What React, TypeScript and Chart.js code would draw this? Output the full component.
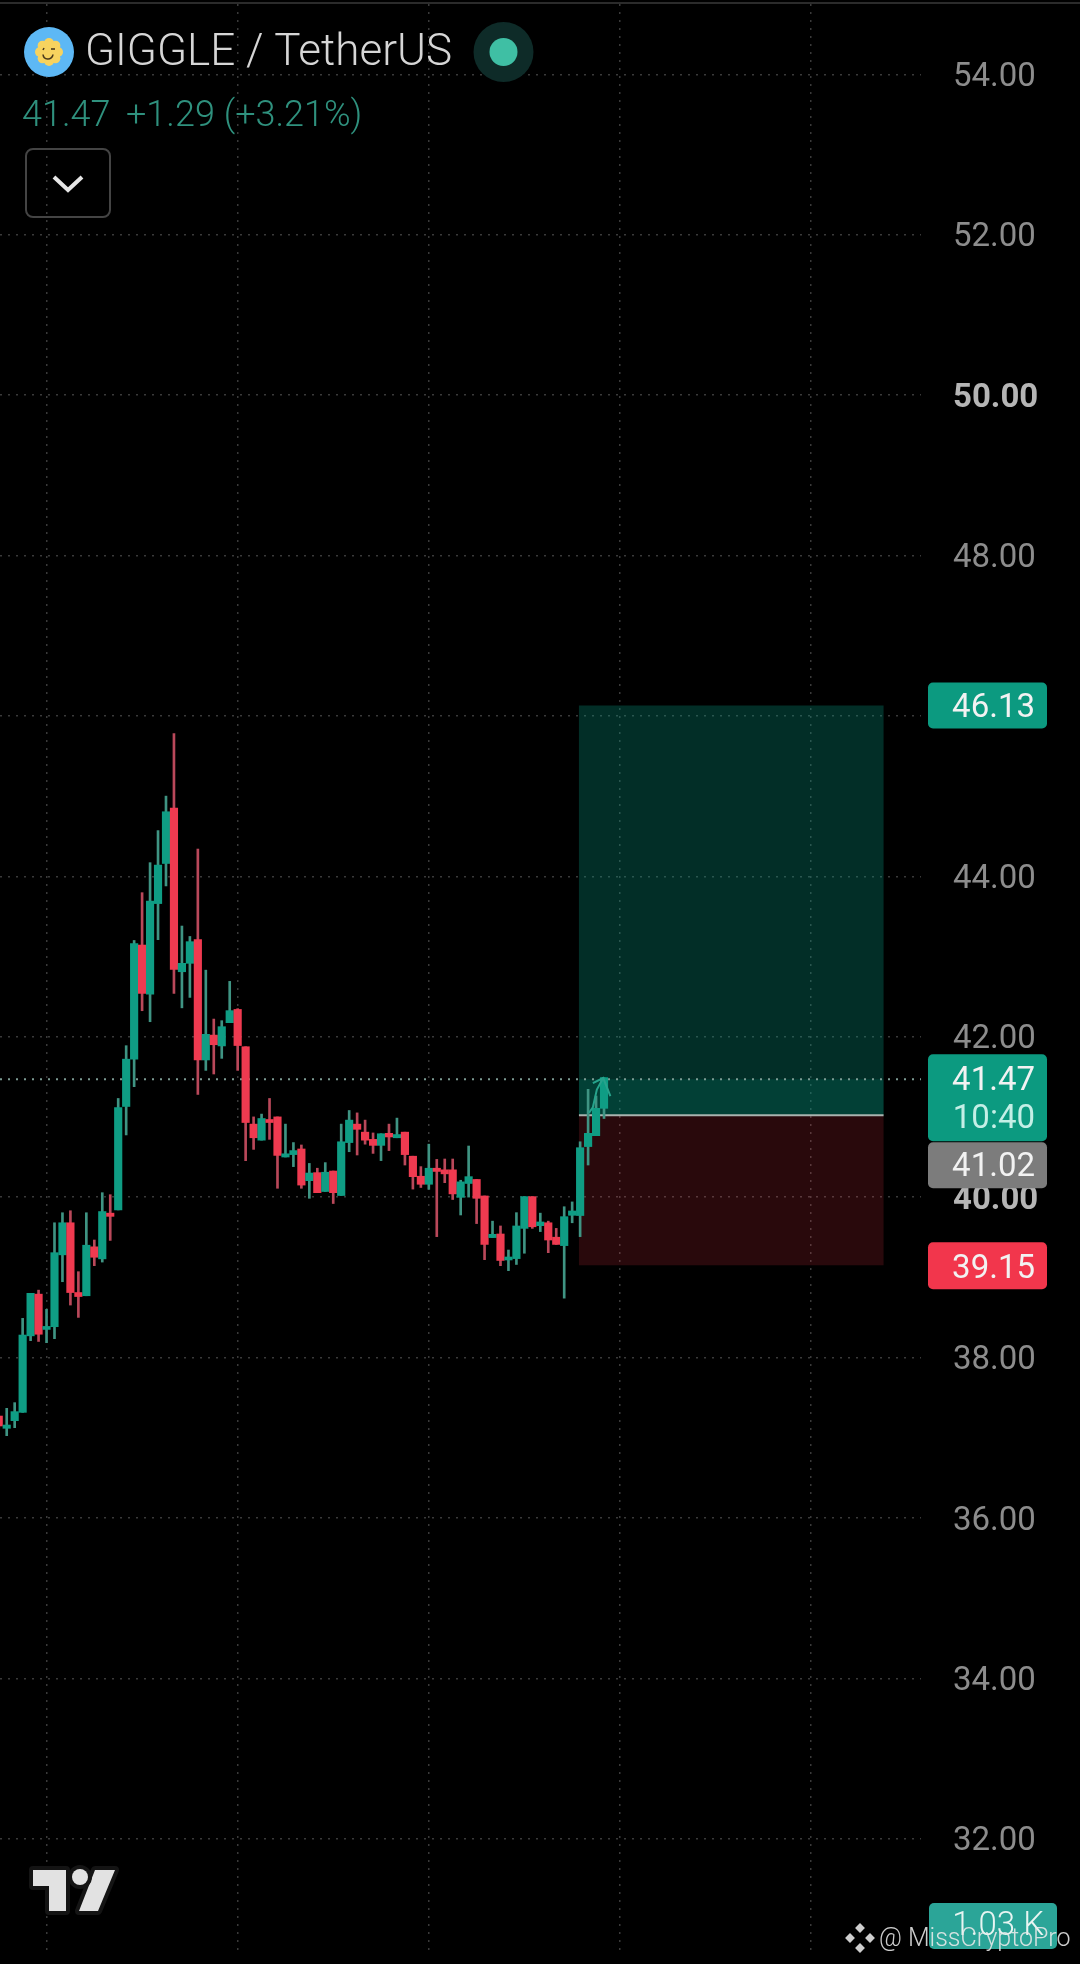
import React, { useEffect, useRef } from "react";
import { Chart, registerables } from "chart.js";

Chart.register(...registerables);

const candleIndex = Array.from({ length: 77 }, (_, i) => i);
const opens = [37.27,37.117,37.212,37.316,38.27,38.79,38.35,38.384,39.28,39.68,38.81,38.77,39.38,39.23,39.8,39.84,41.13,41.72,43.143,42.53,43.66,44.16,44.85,42.81,42.915,43.21,41.71,42.02,41.885,42.175,42.34,41.875,40.91,40.71,40.95,41.0,40.5,40.53,40.6,40.205,40.305,40.07,40.325,40.02,40.68,40.91,40.81,40.72,40.645,40.795,40.74,40.81,40.51,40.26,40.16,40.36,40.34,40.34,39.997,40.17,40.22,40.014,39.495,39.54,39.216,39.233,39.61,40.006,39.644,39.68,39.5,39.395,39.773,39.77,40.63,40.766,41.107];
const closes = [37.146,37.158,37.325,38.28,38.8,38.29,38.37,39.307,39.68,38.81,38.76,39.4,39.25,39.82,39.76,41.115,41.72,43.16,42.54,43.69,44.14,44.805,42.84,42.915,43.185,41.71,42.03,41.9,42.125,42.325,41.89,40.93,40.74,40.98,40.93,40.52,40.54,40.58,40.15,40.3,40.055,40.31,40.055,40.69,40.96,40.845,40.71,40.645,40.79,40.75,40.78,40.53,40.255,40.16,40.36,40.32,40.29,40.04,40.19,40.255,39.985,39.41,39.536,39.21,39.237,39.64,40.006,39.63,39.69,39.465,39.41,39.756,39.827,40.616,40.795,41.107,41.49];
const highs = [37.27,37.366,37.437,38.488,38.8,38.84,38.6,39.68,39.805,39.83,39.07,39.805,39.465,40.055,40.03,41.23,41.888,43.2,43.796,44.17,44.57,45.0,45.78,43.38,43.25,44.34,42.83,42.22,42.2,42.69,42.35,41.875,41.0,41.035,41.23,41.0,40.91,40.68,40.65,40.42,40.36,40.43,40.325,40.91,41.08,41.05,40.96,40.8,40.79,40.91,40.985,40.81,40.51,40.38,40.66,40.47,40.475,40.475,40.21,40.637,40.22,40.014,39.7,39.64,39.34,39.806,40.006,40.006,39.8,39.7,39.61,39.88,39.94,40.69,41.344,41.26,41.49];
const lows = [37.12,37.025,37.125,37.316,38.21,38.2,38.185,38.235,38.945,38.654,38.5,38.77,39.145,39.19,39.46,39.84,40.775,41.377,42.324,42.187,43.21,43.88,42.54,42.36,42.49,41.28,41.58,41.535,41.73,42.175,41.58,40.454,40.595,40.71,40.72,40.11,40.5,40.38,40.11,39.985,40.055,40.07,39.92,40.02,40.566,40.525,40.66,40.545,40.455,40.58,40.74,40.4,40.1,40.12,40.097,39.507,40.18,39.97,39.777,40.0,39.67,39.22,39.495,39.145,39.083,39.16,39.3,39.61,39.57,39.307,39.41,38.74,39.68,39.507,40.4,40.766,40.98];

const priceTicks = [32, 34, 36, 38, 40, 42, 44, 46, 48, 50, 52, 54];
const boldTicks = [40, 50];
const timeGrid = [6, 30, 54, 78, 102];

const lastPrice = 41.47;
const targetPrice = 46.13;
const entryPrice = 41.02;
const stopPrice = 39.15;
const boxStartIndex = 72.85;
const boxEndIndex = 111.1;
const arrowShaft = [[74.1, 41.05], [74.6, 41.12], [75.1, 41.34], [75.9, 41.485]];
const arrowHeadLeft = [[74.6, 41.42], [75.9, 41.485], [76.8, 41.26]];

const title = "GIGGLE / TetherUS";
const lastLabel = "41.47";
const changeLabel = "+1.29 (+3.21%)";
const countdown = "10:40";
const volumeLabel = "1.03 K";
const watermark = "@ MissCryptoPro";

const UP = "#0f9d84";
const DOWN = "#ef3a50";
const UP_WICK = "#3f9483";
const DOWN_WICK = "#b9485a";
const FONT = "Roboto, sans-serif";

function roundRect(c: CanvasRenderingContext2D, x: number, y: number, w: number, h: number, r: number) {
  c.beginPath();
  c.roundRect(x, y, w, h, r);
}

const overlayPlugin = {
  id: "overlay",
  beforeDraw(chart: any) {
    // the reference's axis digits sit slightly below the grid line
    for (const item of chart.scales.y.getLabelItems()) {
      if (!item.shifted) {
        item.options.translation[1] += 3.5;
        item.shifted = true;
      }
    }
  },
  beforeDatasetsDraw(chart: any) {
    const { ctx: c, scales, chartArea } = chart;
    const X = scales.x, Y = scales.y;
    const l = X.getPixelForValue(boxStartIndex), r = X.getPixelForValue(boxEndIndex);
    const yT = Y.getPixelForValue(targetPrice), yL = Y.getPixelForValue(lastPrice);
    const yE = Y.getPixelForValue(entryPrice), yS = Y.getPixelForValue(stopPrice);
    c.save();
    c.fillStyle = "rgba(8,153,129,0.30)";
    c.fillRect(l, yT, r - l, yE - yT);
    c.fillStyle = "rgba(8,153,129,0.17)";
    c.fillRect(l, yL, r - l, yE - yL);
    c.fillStyle = "rgba(242,54,69,0.17)";
    c.fillRect(l, yE, r - l, yS - yE);
    c.strokeStyle = "#a9b3af";
    c.lineWidth = 2;
    c.beginPath(); c.moveTo(l, yE); c.lineTo(r, yE); c.stroke();
    c.strokeStyle = "#7d9c94";
    c.lineWidth = 2;
    c.setLineDash([2, 6]);
    c.beginPath(); c.moveTo(chartArea.left, yL); c.lineTo(chartArea.right, yL); c.stroke();
    c.restore();
  },
  afterDatasetsDraw(chart: any) {
    const { ctx: c, scales } = chart;
    const X = scales.x, Y = scales.y;
    c.save();
    c.strokeStyle = "#27a38c";
    c.lineWidth = 2;
    for (const line of [arrowShaft, arrowHeadLeft]) {
      c.beginPath();
      line.forEach(([i, p], n) => {
        const px = X.getPixelForValue(i), py = Y.getPixelForValue(p);
        if (n === 0) c.moveTo(px, py); else c.lineTo(px, py);
      });
      c.stroke();
    }
    c.restore();
  },
  afterDraw(chart: any) {
    const { ctx: c, scales } = chart;
    const Y = scales.y;
    c.save();
    // top rule
    c.fillStyle = "#2b2b2b";
    c.fillRect(0, 2, 1080, 2);

    // header
    c.fillStyle = "#5db8f5";
    c.beginPath(); c.arc(49, 52, 25, 0, Math.PI * 2); c.fill();
    c.fillStyle = "#f7d35f";
    for (let k = 0; k < 8; k++) {
      const a = (k * Math.PI) / 4;
      c.beginPath(); c.arc(49 + Math.cos(a) * 9, 52 + Math.sin(a) * 9, 5, 0, Math.PI * 2); c.fill();
    }
    c.beginPath(); c.arc(49, 52, 10, 0, Math.PI * 2); c.fill();
    c.strokeStyle = "#4a3a1c"; c.lineWidth = 1.6;
    c.beginPath(); c.arc(48, 54, 5, 0.1, Math.PI - 0.1); c.stroke();
    c.beginPath(); c.moveTo(43, 50); c.lineTo(44, 48); c.stroke();
    c.beginPath(); c.moveTo(51, 49); c.lineTo(55, 49); c.stroke();

    c.textBaseline = "alphabetic";
    c.textAlign = "left";
    c.fillStyle = "#d6d6d6";
    c.font = `300 44px ${FONT}`;
    c.fillText(title, 85, 65);
    c.fillStyle = "#0e2b28";
    c.beginPath(); c.arc(503.5, 52, 30, 0, Math.PI * 2); c.fill();
    c.fillStyle = "#3fbfa4";
    c.beginPath(); c.arc(503.5, 52, 14, 0, Math.PI * 2); c.fill();

    c.fillStyle = "#2f917e";
    c.font = `300 36px ${FONT}`;
    c.fillText(lastLabel, 22, 126);
    c.fillText(changeLabel, 126, 126);

    // dropdown
    c.strokeStyle = "#444444"; c.lineWidth = 2;
    roundRect(c, 26, 149, 84, 68, 7); c.stroke();
    c.strokeStyle = "#e6e6e6"; c.lineWidth = 4;
    c.beginPath(); c.moveTo(54, 177); c.lineTo(68, 190); c.lineTo(82, 177); c.stroke();

    // price tags
    const tag = (y: number, h: number, color: string) => {
      c.fillStyle = color;
      roundRect(c, 928, y, 119, h, 5); c.fill();
    };
    const tagText = (t: string, y: number, color = "#f2f2f2") => {
      c.fillStyle = color;
      c.font = `400 33px ${FONT}`;
      c.textAlign = "right";
      c.textBaseline = "middle";
      c.fillText(t, 1035, y);
    };
    const yT = Y.getPixelForValue(targetPrice);
    const yS = Y.getPixelForValue(stopPrice);
    const yL = Y.getPixelForValue(lastPrice);
    tag(yT - 23, 46, "#0c9a80");
    tagText(targetPrice.toFixed(2), yT + 3);
    tag(yS - 23, 47, "#f2364c");
    tagText(stopPrice.toFixed(2), yS + 4);
    tag(yL - 25, 87, "#0c9a80");
    tagText(lastPrice.toFixed(2), yL + 3);
    tagText(countdown, yL + 41, "#c4efe6");
    tag(yL + 63, 46, "#7c7c7c");
    tagText(entryPrice.toFixed(2), yL + 89);

    // volume tag
    c.fillStyle = "#2ba598";
    roundRect(c, 929, 1903, 128, 46, 5); c.fill();
    c.font = `300 33px ${FONT}`;
    c.fillStyle = "#e8f5f2";
    c.textAlign = "right";
    c.fillText(volumeLabel, 1044, 1927);

    // logo
    c.fillStyle = "#e2e2e2";
    c.strokeStyle = "#141414"; c.lineWidth = 8; c.lineJoin = "round";
    const logo = new Path2D("M33 1870 H66 V1911 H49 V1886 H33 Z M95 1870 H115 L98 1911 H79 Z");
    c.stroke(logo);
    c.fill(logo);
    c.beginPath(); c.arc(80, 1877, 8, 0, Math.PI * 2); c.stroke(); c.fill();

    // watermark
    c.fillStyle = "rgba(235,235,235,0.88)";
    for (const [dx, dy] of [[0, -10], [-10, 0], [10, 0], [0, 10]]) {
      c.save();
      c.translate(860 + dx, 1938 + dy);
      c.rotate(Math.PI / 4);
      c.fillRect(-3.5, -3.5, 7, 7);
      c.restore();
    }
    c.font = `300 25px ${FONT}`;
    c.textAlign = "left";
    c.textBaseline = "alphabetic";
    c.fillText(watermark, 879, 1946);
    c.restore();
  },
};

export default function App() {
  const ref = useRef<HTMLCanvasElement | null>(null);
  useEffect(() => {
    document.body.style.margin = "0";
    document.body.style.background = "#000";
    const isUp = candleIndex.map((i) => closes[i] >= opens[i]);
    const chart = new Chart(ref.current as HTMLCanvasElement, {
      type: "bar",
      data: {
        datasets: [
          {
            label: "Body",
            data: candleIndex.map((i) => ({ x: i, y: [opens[i], closes[i]] })),
            backgroundColor: isUp.map((u) => (u ? UP : DOWN)),
            barThickness: 7.5,
            minBarLength: 3,
            borderWidth: 0,
          },
          {
            label: "Wick",
            data: candleIndex.map((i) => ({ x: i, y: [lows[i], highs[i]] })),
            backgroundColor: isUp.map((u) => (u ? UP_WICK : DOWN_WICK)),
            barThickness: 2,
            borderWidth: 0,
          },
        ],
      } as any,
      options: {
        responsive: false,
        animation: false,
        devicePixelRatio: 1,
        layout: { padding: { top: 4, bottom: 14, left: 0, right: 0 } },
        plugins: { legend: { display: false }, tooltip: { enabled: false } },
        scales: {
          x: {
            type: "linear",
            min: 0.158,
            max: 115.8,
            offset: false,
            afterBuildTicks: (s: any) => { s.ticks = timeGrid.map((value) => ({ value })); },
            afterFit: (s: any) => { s.height = 0; s.paddingLeft = 0; s.paddingRight = 0; s.paddingTop = 0; s.paddingBottom = 0; },
            grid: { color: "#3a3a3a", lineWidth: 1.5, drawTicks: false, offset: false },
            border: { display: false, dash: [2, 6] },
            ticks: { display: false, autoSkip: false },
          },
          y: {
            position: "right",
            min: 30.612,
            max: 54.877,
            afterBuildTicks: (s: any) => { s.ticks = priceTicks.map((value) => ({ value })); },
            afterFit: (s: any) => { s.width = 159; s.paddingTop = 0; s.paddingBottom = 0; s.paddingLeft = 0; s.paddingRight = 0; },
            grid: { color: "#3a3a3a", lineWidth: 1.5, drawTicks: false },
            border: { display: false, dash: [2, 6] },
            ticks: {
              autoSkip: false,
              padding: 32,
              crossAlign: "near",
              callback: (v: any) => Number(v).toFixed(2),
              color: (c: any) => (boldTicks.includes(c.tick?.value) ? "#b5b5b5" : "#8c8c8c"),
              font: (c: any) => ({
                family: "Roboto",
                size: 33,
                weight: boldTicks.includes(c.tick?.value) ? "bold" : "400",
              }),
            },
          },
        },
        datasets: { bar: { grouped: false } },
      } as any,
      plugins: [overlayPlugin],
    });
    return () => chart.destroy();
  }, []);
  return (
    <div style={{ width: 1080, height: 1964, background: "#000" }}>
      <canvas ref={ref} width={1080} height={1964} style={{ display: "block" }} />
    </div>
  );
}
